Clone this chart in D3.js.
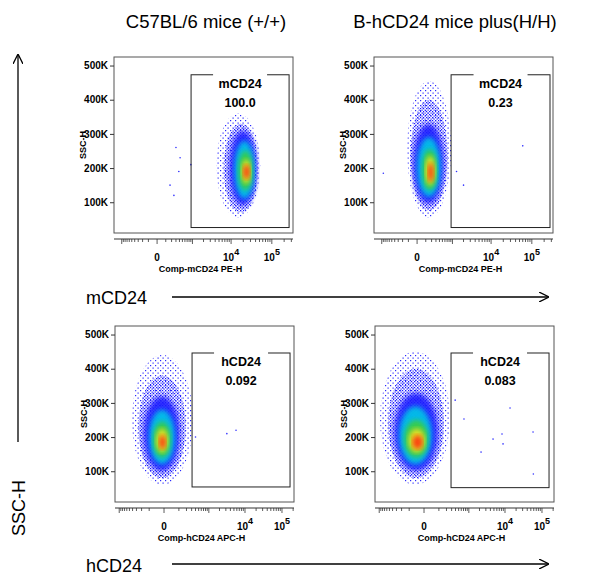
<!DOCTYPE html>
<html><head><meta charset="utf-8">
<script src="https://cdn.jsdelivr.net/npm/d3@7"></script>
<style>body{margin:0;background:#fff}text{font-family:"Liberation Sans",Arial,sans-serif}</style>
</head><body><svg id="c" width="600" height="584"></svg>
<script>
// density levels per panel: sparse outer, dense blue, cyan, green, yellow, red
// each level: [xLow, xHigh, yLow, yHigh] in fluorescence units / SSC-H
var levelFills = ["url(#speckA)", "url(#speckB)", "#1e1eff", "#00c8e6", "#3ccf3c", "#f0e020", "#ff3010"];
var cloudWT_m = [[4300,52000,55e3,360e3],[6500,46000,70e3,330e3],[9000,42000,90e3,310e3],[12000,38000,110e3,280e3],[15000,34000,135e3,250e3],[18000,31000,155e3,225e3],[20000,29000,168e3,210e3]];
var cloudH_m = [[-120,915,55e3,455e3],[-70,720,75e3,400e3],[-40,560,95e3,330e3],[0,440,115e3,290e3],[50,340,135e3,255e3],[90,280,150e3,235e3],[130,240,160e3,215e3]];
var cloudWT_h = [[-420,330,60e3,440e3],[-260,190,80e3,380e3],[-170,110,100e3,320e3],[-102,65,120e3,280e3],[-65,36,140e3,245e3],[-42,19,155e3,225e3],[-24,8,165e3,205e3]];
var cloudH_h = [[-950,266,60e3,450e3],[-552,162,80e3,400e3],[-357,92,100e3,330e3],[-245,42,120e3,290e3],[-160,20,140e3,250e3],[-110,5,155e3,225e3],[-70,-5,165e3,205e3]];
var outWT_m = [[170,150e3],[420,230e3],[300,260e3],[380,190e3],[900,210e3],[250,120e3]];
var outH_m = [[60000,265e3],[2000,150e3],[-900,185e3],[1300,190e3]];
var outWT_h = [[3200,210e3],[5700,220e3],[400,200e3]];
var outH_h = [[390,308e3],[723,253e3],[2210,156e3],[4730,194e3],[8300,209e3],[13700,285e3],[57400,215e3],[58500,92e3],[8850,180e3]];
var gateNames = ["mCD24","mCD24","hCD24","hCD24"];
var gateValues = ["100.0","0.23","0.092","0.083"];
var xTitles = ["Comp-mCD24 PE-H","Comp-mCD24 PE-H","Comp-hCD24 APC-H","Comp-hCD24 APC-H"];
var gates = [[914,264000,26e3,473e3],[915,278000,26e3,473e3],[310,165000,54e3,446e3],[287,155000,52e3,446e3]];
var yTicks = [100e3,200e3,300e3,400e3,500e3];
var titles = ["C57BL/6 mice (+/+)","B-hCD24 mice plus(H/H)"];

// display transforms: PE channel and APC channel
var peScale = {c:159, lo:-1630, hi:329000};
var apcScale = {c:66, lo:-1320, hi:211000};

var panels = [
  {x0:114,y0:57,cloud:cloudWT_m,out:outWT_m,s:peScale},
  {x0:374,y0:57,cloud:cloudH_m,out:outH_m,s:peScale},
  {x0:115,y0:326,cloud:cloudWT_h,out:outWT_h,s:apcScale},
  {x0:375,y0:326,cloud:cloudH_h,out:outH_h,s:apcScale}
];
var W = 179, H = 176;
var svg = d3.select("#c");
var defs = svg.append("defs");
defs.append("filter").attr("id","blur").append("feGaussianBlur").attr("stdDeviation",2.5);
function speck(id, size, c){
  var p = defs.append("pattern").attr("id",id).attr("width",size).attr("height",size).attr("patternUnits","userSpaceOnUse");
  p.append("rect").attr("width",1.2).attr("height",1.2).attr("fill",c);
  p.append("rect").attr("x",size/2).attr("y",size/2).attr("width",1.2).attr("height",1.2).attr("fill",c);
}
speck("speckA",5,"#2a2aff");
speck("speckB",3,"#1a1aff");

panels.forEach(function(p,i){
  var x = d3.scaleSymlog().constant(p.s.c).domain([p.s.lo,p.s.hi]).range([p.x0,p.x0+W]);
  var y = d3.scaleLinear().domain([10e3,525e3]).range([p.y0+H,p.y0]);
  var minor = [0];
  [-1,1].forEach(function(sg){ for (var d=100; d<=1e5; d*=10) for (var k=1;k<10;k++){ var v=sg*k*d; if (v>p.s.lo && v<p.s.hi) minor.push(v);} });
  var g = svg.append("g");
  var clipId = "clip"+i;
  defs.append("clipPath").attr("id",clipId).append("rect").attr("x",p.x0).attr("y",p.y0).attr("width",W).attr("height",H);
  var cg = g.append("g").attr("clip-path","url(#"+clipId+")");
  p.cloud.forEach(function(l,j){
    var e = cg.append("ellipse")
      .attr("cx",(x(l[0])+x(l[1]))/2).attr("cy",(y(l[2])+y(l[3]))/2)
      .attr("rx",(x(l[1])-x(l[0]))/2).attr("ry",(y(l[2])-y(l[3]))/2)
      .attr("fill",levelFills[j]);
    if (j>=2) e.attr("filter","url(#blur)").attr("opacity",0.9);
  });
  cg.selectAll("circle.o").data(p.out).enter().append("circle")
    .attr("cx",function(d){return x(d[0]);}).attr("cy",function(d){return y(d[1]);})
    .attr("r",0.8).attr("fill","#3030ff");
  g.append("rect").attr("x",p.x0).attr("y",p.y0).attr("width",W).attr("height",H)
    .attr("fill","none").attr("stroke","#555").attr("stroke-width",1);
  var gt = gates[i];
  var gx0 = x(gt[0]), gx1 = x(gt[1]), gy0 = y(gt[3]), gy1 = y(gt[2]);
  g.append("rect").attr("x",gx0).attr("y",gy0).attr("width",gx1-gx0).attr("height",gy1-gy0)
    .attr("fill","none").attr("stroke","#222").attr("stroke-width",1);
  var cx = (gx0+gx1)/2;
  g.append("rect").attr("x",cx-27).attr("y",gy0-2).attr("width",54).attr("height",4).attr("fill","#fff");
  g.append("text").attr("x",cx).attr("y",gy0+13).attr("text-anchor","middle")
    .attr("font-size",12.5).attr("font-weight","bold").text(gateNames[i]);
  g.append("text").attr("x",cx).attr("y",gy0+32).attr("text-anchor","middle")
    .attr("font-size",12.5).attr("font-weight","bold").text(gateValues[i]);
  var ya = g.append("g").attr("transform","translate("+p.x0+",0)")
    .call(d3.axisLeft(y).tickValues(yTicks).tickSize(4).tickPadding(2).tickFormat(function(d){return (d/1000)+"K";}));
  ya.select(".domain").remove();
  ya.selectAll("text").attr("font-size",10).attr("font-weight","bold").attr("font-family","Liberation Sans, Arial");
  ya.selectAll("line").attr("stroke","#333");
  g.append("text").attr("transform","translate("+(p.x0-28)+","+(p.y0+H/2)+") rotate(-90)")
    .attr("text-anchor","middle").attr("font-size",9).attr("font-weight","bold").text("SSC-H");
  var by = p.y0+H+6;
  g.append("line").attr("x1",p.x0).attr("x2",p.x0+W).attr("y1",by).attr("y2",by).attr("stroke","#333");
  g.selectAll("line.mt").data(minor).enter().append("line")
    .attr("x1",function(d){return x(d);}).attr("x2",function(d){return x(d);})
    .attr("y1",by).attr("y2",function(d){var a=Math.abs(d); return by+((a===0||a===1e3||a===1e4||a===1e5)?5:3);})
    .attr("stroke","#333").attr("stroke-width",0.8);
  g.append("text").attr("x",x(0)).attr("y",by+22).attr("text-anchor","middle").attr("font-size",10).attr("font-weight","bold").text("0");
  [1e4,1e5].forEach(function(v,k){
    var t = g.append("text").attr("x",x(v)).attr("y",by+22).attr("text-anchor","middle").attr("font-size",10).attr("font-weight","bold");
    t.append("tspan").text("10");
    t.append("tspan").attr("dy",-6).attr("font-size",9).text(k===0?"4":"5");
  });
  g.append("text").attr("x",p.x0+W/2-3).attr("y",by+33).attr("text-anchor","middle")
    .attr("font-size",9).attr("font-weight","bold").text(xTitles[i]);
});

svg.append("text").attr("x",206).attr("y",28).attr("text-anchor","middle").attr("font-size",18.5).text(titles[0]);
svg.append("text").attr("x",455).attr("y",28).attr("text-anchor","middle").attr("font-size",18.5).text(titles[1]);
defs.append("marker").attr("id","ah").attr("viewBox","0 0 10 10").attr("refX",9).attr("refY",5)
  .attr("markerWidth",10).attr("markerHeight",10).attr("markerUnits","userSpaceOnUse").attr("orient","auto")
  .append("path").attr("d","M0,0 L10,5 L0,10").attr("fill","none").attr("stroke","#000").attr("stroke-width",1.3);
svg.append("text").attr("x",86).attr("y",304).attr("font-size",18).text("mCD24");
svg.append("line").attr("x1",172).attr("x2",548).attr("y1",297).attr("y2",297).attr("stroke","#000").attr("stroke-width",1.3).attr("marker-end","url(#ah)");
svg.append("text").attr("x",86).attr("y",572).attr("font-size",18).text("hCD24");
svg.append("line").attr("x1",172).attr("x2",548).attr("y1",564).attr("y2",564).attr("stroke","#000").attr("stroke-width",1.3).attr("marker-end","url(#ah)");
svg.append("text").attr("transform","translate(25,508) rotate(-90)").attr("text-anchor","middle").attr("font-size",18).text("SSC-H");
svg.append("line").attr("x1",18).attr("x2",18).attr("y1",442).attr("y2",55).attr("stroke","#000").attr("stroke-width",1.3).attr("marker-end","url(#ah)");
</script></body></html>
